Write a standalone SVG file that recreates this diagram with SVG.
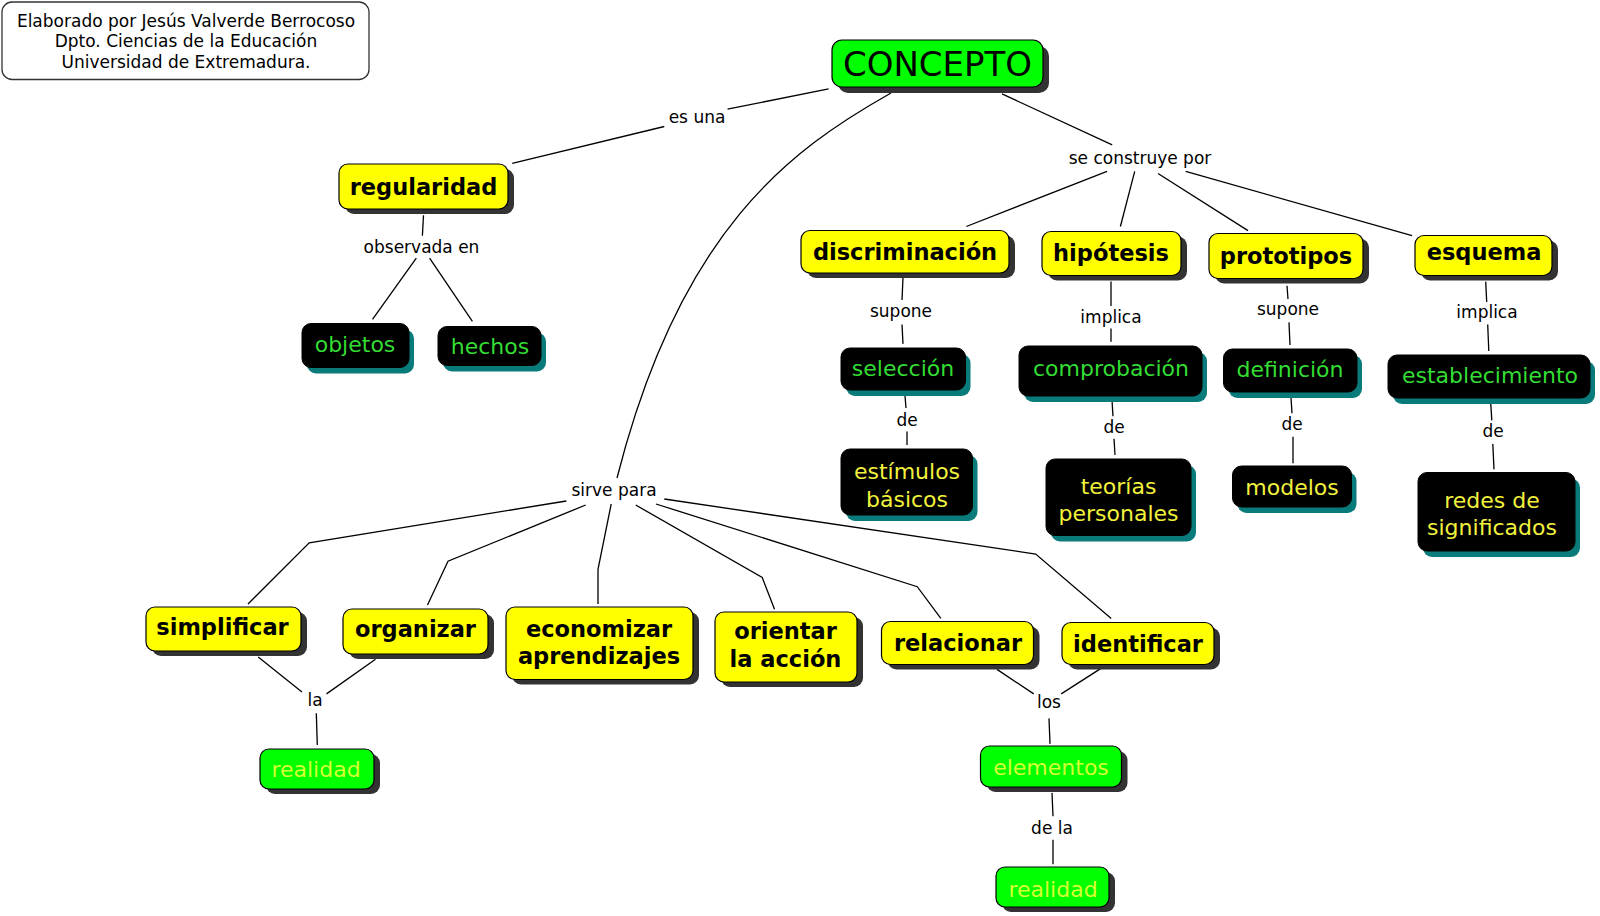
<svg xmlns="http://www.w3.org/2000/svg" width="1600" height="916" viewBox="0 0 1600 916">
<style>
text{font-family:"DejaVu Sans","Liberation Sans",sans-serif;text-anchor:middle;dominant-baseline:central}
.y rect.b{fill:#ffff00;stroke:#000;stroke-width:1.2}
.y rect.s{fill:#333333}
.y text{font-size:22.5px;font-weight:bold;fill:#000}
.k rect.b{fill:#000;stroke:#000;stroke-width:1}
.k rect.s{fill:#0a7b7b}
.k text{font-size:22px;fill:#33dd33}
.k text.yl{fill:#f2f23c}
.g rect.b{fill:#00ff00;stroke:#000;stroke-width:1.2}
.g rect.s{fill:#333333}
.g text{font-size:22px;fill:#d4ff33}
.lbl{font-size:17px;fill:#000}
#conn path,#conn line,#conn polyline{fill:none;stroke:#000;stroke-width:1.3}
</style>

<g id="info">
<rect x="2" y="2" width="367" height="77.5" rx="10" fill="#fff" stroke="#333" stroke-width="1.3"/>
<text x="186" y="20.5" style="font-size:17px">Elaborado por Jesús Valverde Berrocoso</text>
<text x="186" y="41" style="font-size:17px">Dpto. Ciencias de la Educación</text>
<text x="186" y="61.5" style="font-size:17px">Universidad de Extremadura.</text>
</g>

<g id="conn">
<line x1="828.6" y1="88.8" x2="727.5" y2="109.2"/>
<line x1="664.3" y1="126.5" x2="512.2" y2="163.3"/>
<path d="M891,93 C790,150 680,230 617,478"/>
<line x1="1002" y1="93.9" x2="1112.2" y2="144.9"/>
<line x1="1107" y1="171.4" x2="966.3" y2="226.5"/>
<line x1="1134.7" y1="171.4" x2="1120.4" y2="226.5"/>
<line x1="1158" y1="173.5" x2="1248" y2="230.6"/>
<line x1="1185.7" y1="171.4" x2="1412" y2="235.7"/>
<line x1="423.5" y1="215.3" x2="422.4" y2="235.7"/>
<line x1="416.3" y1="258.2" x2="372.5" y2="319.4"/>
<line x1="429.6" y1="258.2" x2="472.4" y2="321.4"/>
<line x1="903" y1="277.5" x2="902" y2="300"/>
<line x1="902" y1="324.5" x2="903" y2="343.9"/>
<line x1="905" y1="396" x2="906" y2="408"/>
<line x1="907" y1="431.6" x2="907" y2="445"/>
<line x1="1111" y1="281.6" x2="1111" y2="306"/>
<line x1="1111" y1="328.6" x2="1111" y2="341.8"/>
<line x1="1112" y1="400" x2="1113" y2="416.3"/>
<line x1="1114" y1="438.8" x2="1115" y2="455"/>
<line x1="1287" y1="285.7" x2="1288" y2="299"/>
<line x1="1289" y1="322.4" x2="1290" y2="345"/>
<line x1="1291" y1="398" x2="1292" y2="413.3"/>
<line x1="1293" y1="436.7" x2="1293" y2="463.3"/>
<line x1="1485.7" y1="281.6" x2="1486.7" y2="302"/>
<line x1="1487.7" y1="324.5" x2="1488.8" y2="351"/>
<line x1="1490.8" y1="404" x2="1491.8" y2="420.4"/>
<line x1="1492.8" y1="443.9" x2="1494" y2="469.4"/>
<polyline points="566.3,501 309.2,542.9 248,604"/>
<polyline points="585.7,505 448,561.2 427.5,605"/>
<polyline points="611.2,504 598,569.4 598,604"/>
<polyline points="635.7,505 762.2,577.5 774.5,609.2"/>
<polyline points="656,504 917.3,586.7 940.8,618.4"/>
<polyline points="664.3,499 1035.7,554 1111.2,618.4"/>
<line x1="258.2" y1="657" x2="302" y2="692"/>
<line x1="375.5" y1="659.2" x2="326.5" y2="693.9"/>
<line x1="316.3" y1="713.3" x2="317.3" y2="745"/>
<line x1="997" y1="669.4" x2="1033.7" y2="693.9"/>
<line x1="1101" y1="668.4" x2="1061.2" y2="693.9"/>
<line x1="1049" y1="718.4" x2="1050" y2="743.9"/>
<line x1="1052" y1="792.9" x2="1053" y2="816.3"/>
<line x1="1053" y1="839.8" x2="1053" y2="864.3"/>
</g>

<g id="labels">
<text class="lbl" x="697" y="116.5">es una</text>
<text class="lbl" x="1140" y="157.5">se construye por</text>
<text class="lbl" x="421.5" y="246.5">observada en</text>
<text class="lbl" x="901" y="310.5">supone</text>
<text class="lbl" x="907" y="419.5">de</text>
<text class="lbl" x="1111" y="316.5">implica</text>
<text class="lbl" x="1114" y="426.5">de</text>
<text class="lbl" x="1288" y="309">supone</text>
<text class="lbl" x="1292" y="423.5">de</text>
<text class="lbl" x="1487" y="312">implica</text>
<text class="lbl" x="1493" y="430.5">de</text>
<text class="lbl" x="614" y="490">sirve para</text>
<text class="lbl" x="315" y="700">la</text>
<text class="lbl" x="1049" y="702">los</text>
<text class="lbl" x="1052" y="827.5">de la</text>
</g>

<g id="concepto" class="g">
<rect class="s" x="838" y="46" width="211" height="47" rx="10"/>
<rect class="b" x="832" y="40" width="211" height="47" rx="10"/>
<text x="937.5" y="64" style="font-size:34px;fill:#000">CONCEPTO</text>
</g>

<g id="regularidad" class="y">
<rect class="s" x="345" y="169" width="169" height="45" rx="9"/>
<rect class="b" x="339" y="164" width="169" height="45" rx="9"/>
<text x="423.5" y="186.5">regularidad</text>
</g>

<g id="discriminacion" class="y">
<rect class="s" x="807" y="235.5" width="208" height="42.5" rx="9"/>
<rect class="b" x="801" y="230.5" width="208" height="42.5" rx="9"/>
<text x="905" y="251.5">discriminación</text>
</g>

<g id="hipotesis" class="y">
<rect class="s" x="1048" y="236.5" width="139" height="44" rx="9"/>
<rect class="b" x="1042" y="231.5" width="139" height="44" rx="9"/>
<text x="1111" y="253">hipótesis</text>
</g>

<g id="prototipos" class="y">
<rect class="s" x="1215" y="238.5" width="154" height="45" rx="9"/>
<rect class="b" x="1209" y="233.5" width="154" height="45" rx="9"/>
<text x="1286" y="256">prototipos</text>
</g>

<g id="esquema" class="y">
<rect class="s" x="1421" y="240.5" width="137" height="40" rx="9"/>
<rect class="b" x="1415" y="235.5" width="137" height="40" rx="9"/>
<text x="1484" y="252">esquema</text>
</g>

<g id="objetos" class="k">
<rect class="s" x="307" y="329.5" width="107" height="44" rx="9"/>
<rect class="b" x="302" y="323.5" width="107" height="44" rx="9"/>
<text x="355" y="344.5">objetos</text>
</g>

<g id="hechos" class="k">
<rect class="s" x="443" y="332.5" width="103" height="39" rx="9"/>
<rect class="b" x="438" y="326.5" width="103" height="39" rx="9"/>
<text x="490" y="346">hechos</text>
</g>

<g id="seleccion" class="k">
<rect class="s" x="846" y="354" width="124.5" height="42" rx="9"/>
<rect class="b" x="841" y="348" width="124.5" height="42" rx="9"/>
<text x="903" y="368.5">selección</text>
</g>

<g id="estimulos" class="k">
<rect class="s" x="846" y="455" width="131.5" height="66" rx="9"/>
<rect class="b" x="841" y="449" width="131.5" height="66" rx="9"/>
<text class="yl" x="907" y="471.5">estímulos</text>
<text class="yl" x="907" y="499">básicos</text>
</g>

<g id="comprobacion" class="k">
<rect class="s" x="1024" y="352" width="183" height="50" rx="9"/>
<rect class="b" x="1019" y="346" width="183" height="50" rx="9"/>
<text x="1111" y="368.5">comprobación</text>
</g>

<g id="teorias" class="k">
<rect class="s" x="1051" y="465" width="145" height="76.5" rx="9"/>
<rect class="b" x="1046" y="459" width="145" height="76.5" rx="9"/>
<text class="yl" x="1118.5" y="486">teorías</text>
<text class="yl" x="1118.5" y="513.5">personales</text>
</g>

<g id="definicion" class="k">
<rect class="s" x="1228.5" y="355" width="133.5" height="43" rx="9"/>
<rect class="b" x="1223.5" y="349" width="133.5" height="43" rx="9"/>
<text x="1290" y="369.5">definición</text>
</g>

<g id="modelos" class="k">
<rect class="s" x="1237.5" y="472" width="119" height="41" rx="9"/>
<rect class="b" x="1232.5" y="466" width="119" height="41" rx="9"/>
<text class="yl" x="1292" y="487">modelos</text>
</g>

<g id="establecimiento" class="k">
<rect class="s" x="1393" y="361" width="202" height="43" rx="9"/>
<rect class="b" x="1388" y="355" width="202" height="43" rx="9"/>
<text x="1490" y="375.5">establecimiento</text>
</g>

<g id="redes" class="k">
<rect class="s" x="1423" y="478.5" width="157" height="78.5" rx="9"/>
<rect class="b" x="1418" y="472.5" width="157" height="78.5" rx="9"/>
<text class="yl" x="1492" y="500">redes de</text>
<text class="yl" x="1492" y="527.5">significados</text>
</g>

<g id="simplificar" class="y">
<rect class="s" x="152" y="612" width="155" height="44" rx="9"/>
<rect class="b" x="146" y="607" width="155" height="44" rx="9"/>
<text x="222.5" y="627">simplificar</text>
</g>

<g id="organizar" class="y">
<rect class="s" x="349" y="614" width="145" height="45" rx="9"/>
<rect class="b" x="343" y="609" width="145" height="45" rx="9"/>
<text x="415.5" y="629">organizar</text>
</g>

<g id="economizar" class="y">
<rect class="s" x="512" y="612" width="187" height="72.5" rx="9"/>
<rect class="b" x="506" y="607" width="187" height="72.5" rx="9"/>
<text x="599" y="629">economizar</text>
<text x="599" y="656">aprendizajes</text>
</g>

<g id="orientar" class="y">
<rect class="s" x="721" y="617" width="142" height="70" rx="9"/>
<rect class="b" x="715" y="612" width="142" height="70" rx="9"/>
<text x="785.5" y="631">orientar</text>
<text x="785.5" y="659">la acción</text>
</g>

<g id="relacionar" class="y">
<rect class="s" x="887.5" y="626.5" width="152" height="43" rx="9"/>
<rect class="b" x="881.5" y="621.5" width="152" height="43" rx="9"/>
<text x="958" y="643">relacionar</text>
</g>

<g id="identificar" class="y">
<rect class="s" x="1068" y="627.5" width="152" height="42" rx="9"/>
<rect class="b" x="1062" y="622.5" width="152" height="42" rx="9"/>
<text x="1138" y="643.5">identificar</text>
</g>

<g id="realidad1" class="g">
<rect class="s" x="266" y="754" width="114" height="40" rx="9"/>
<rect class="b" x="260" y="749" width="114" height="40" rx="9"/>
<text x="316" y="769.5">realidad</text>
</g>

<g id="elementos" class="g">
<rect class="s" x="986.5" y="751" width="141" height="41" rx="9"/>
<rect class="b" x="980.5" y="746" width="141" height="41" rx="9"/>
<text x="1051" y="767.5">elementos</text>
</g>

<g id="realidad2" class="g">
<rect class="s" x="1002" y="872" width="113" height="40" rx="9"/>
<rect class="b" x="996" y="867" width="113" height="40" rx="9"/>
<text x="1053" y="889">realidad</text>
</g>
</svg>
